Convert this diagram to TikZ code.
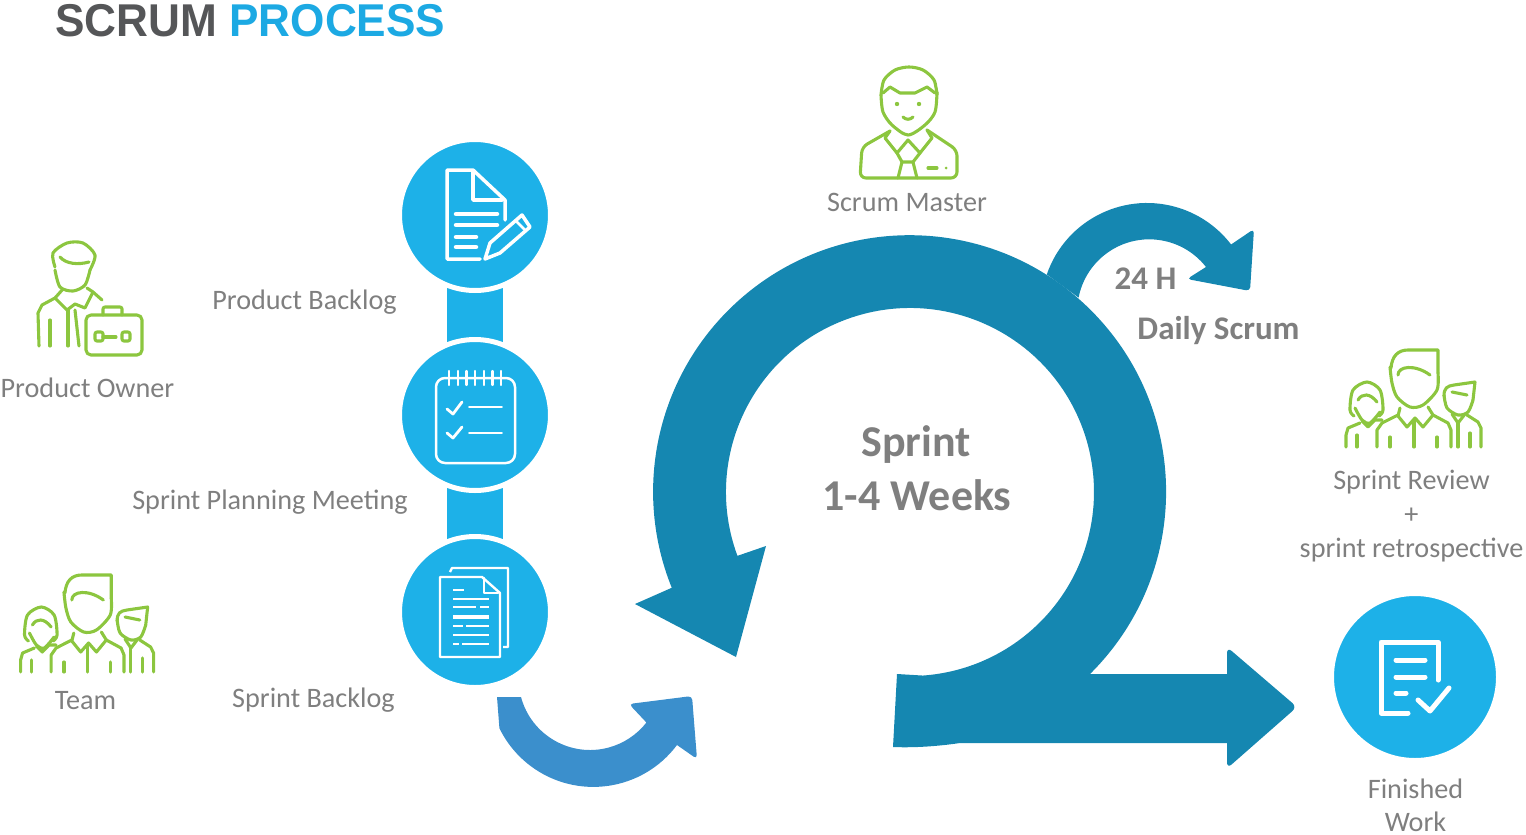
\documentclass[tikz,border=0pt]{standalone}
\usepackage{fontspec}
\setmainfont{Carlito}
\newfontfamily\titlefont[FakeStretch=0.96]{Liberation Sans}
\usetikzlibrary{backgrounds}
\definecolor{ringblue}{HTML}{1587B1}
\definecolor{arrowblue}{HTML}{3B8FCC}
\definecolor{discblue}{HTML}{1DB1E8}
\definecolor{icongreen}{HTML}{8CC63F}
\definecolor{labelgrey}{HTML}{7F7F7F}
\definecolor{titlegrey}{HTML}{555658}
\definecolor{titleblue}{HTML}{1CA9E3}
\newcommand{\teampaths}{%
  \begin{scope}[greenline]
    % centre man
    \draw plot[smooth] coordinates {(70,27) (72,43) (77,57) (90,67) (103,65) (117,50) (118,33)};
    \draw (71,28) .. controls (72,16) and (78,10) .. (88,10) -- (118,10) -- (118,33);
    \draw (78,35) .. controls (78,26) and (95,24) .. (110,35);
    \draw (80,68) -- (78,76) -- (87,87) -- (95,78) -- (103,87) -- (113,75) -- (108,67);
    \draw (94,80) -- (94,107);
    \draw (78,75) -- (62,83) -- (57,90) -- (57,107);
    \draw (113,75) -- (128,83) -- (131,90) -- (131,107);
    \draw (70,97) -- (70,107);
    \draw (117,97) -- (117,107);
    % left woman
    \draw plot[smooth] coordinates {(34,76) (30,70) (33,50) (47,42) (60,50) (63,70) (59,76)};
    \draw (38,60) .. controls (42,53) and (50,53) .. (57,62);
    \draw plot[smooth] coordinates {(35,68) (42,80) (50,83) (60,72)};
    \draw (40,83) -- (28,88) -- (26,95) -- (26,107);
    \draw (42,81) -- (48,87) -- (55,80) -- (62,80);
    \draw (37,95) -- (37,107);
    % right man
    \draw (124,56) .. controls (124,48) and (127,46) .. (134,45) -- (155,42) -- (153,60);
    \draw plot[smooth] coordinates {(124,55) (127,68) (138,75) (148,72) (153,60)};
    \draw (132,52) -- (147,55);
    \draw (132,74) -- (138,83) -- (145,74);
    \draw (147,75) -- (158,82) -- (161,88) -- (161,107);
    \draw (138,83) -- (138,107);
    \draw (150,93) -- (150,107);
  \end{scope}%
}
\tikzset{
  disc/.style={circle,fill=discblue,draw=white,line width=5pt,inner sep=0pt,minimum size=#1},
  link/.style={discblue,line width=56pt},
  lbl/.style={anchor=base,text=labelgrey,inner sep=0pt,font=\fontsize{28.2}{30}\selectfont},
  lblbold/.style={anchor=base,text=labelgrey,inner sep=0pt,font=\fontsize{#1}{40}\selectfont\bfseries},
  whiteline/.style={draw=white,line width=#1,line cap=round,line join=round},
  greenline/.style={draw=icongreen,line width=3.1pt,line cap=round,line join=round}
}
\begin{document}
\begin{tikzpicture}[x=1pt,y=1pt,yscale=-1]
\useasboundingbox (0,0) rectangle (1526,835);

% title
\node[anchor=base west,inner sep=0pt,font=\fontsize{46}{50}\selectfont\titlefont\bfseries] (title) at (55,36)
  {\textcolor{titlegrey}{SCRUM} \textcolor{titleblue}{PROCESS}};

% discs and links
\node[disc=151pt] (backlog) at (475,215) {};
\node[disc=151pt] (planning) at (475,415) {};
\node[disc=151pt] (sprintbl) at (475,612) {};
\node[disc=167pt] (finished) at (1415,677) {};
\begin{scope}[on background layer]
  \draw[link] (backlog.center) -- (planning.center);
  \draw[link] (planning.center) -- (sprintbl.center);
\end{scope}

% big ring arrow
\fill[ringblue] ([shift={(910,492)}]159.7:184pt) arc[start angle=159.7,end angle=446,radius=184pt]
  -- (897,674) -- (893,747) .. controls (915,748) and (940,746) .. (960,743)
  -- (1227,743) [rounded corners=6pt] -- (1227,768.5) -- (1297,707) -- (1227,647) [sharp corners] -- (1227,674)
  -- (1090,674) arc[start angle=45.3,end angle=-202,radius=256.5pt]
  -- (635,604) -- (736,657) -- (766,546) -- cycle;

% 24 H arrow
\fill[ringblue] ([shift={(1147,309)}]-161:106pt) arc[start angle=-161,end angle=-37.5,radius=106pt]
  [rounded corners=4pt] -- (1254,229) -- (1250,291) -- (1187,279) [sharp corners]
  -- (1206,267) arc[start angle=-38,end angle=-169,radius=72pt] -- cycle;

% start arrow
\fill[arrowblue] (497,697) -- (521,697) arc[start angle=165,end angle=38,radius=71.5pt]
  [rounded corners=4pt] -- (629,704) -- (692,696) -- (697,759) [sharp corners] -- (677,745)
  arc[start angle=36.8,end angle=154,radius=104.5pt] -- cycle;

% product backlog icon
\draw[whiteline=3.5pt] (480,259) -- (447,259) -- (447,170) -- (473,170) -- (505,200) -- (505,220);
\draw[whiteline=3.5pt] (473,172) -- (473,200) -- (502,200);
\draw[whiteline=4.5pt] (456,214) -- (497,214) (456,225) -- (497,225) (456,237) -- (476,237) (456,247) -- (476,247);
\draw[whiteline=3.5pt] (485,259) -- (490,243) -- (522,215) -- (530,227) -- (500,253) -- cycle;
\draw[whiteline=2.5pt] (516,221) -- (525,230);

% checklist icon
\draw[whiteline=2.5pt,rounded corners=9pt] (436,378) rectangle (515,463);
\draw[whiteline=2.5pt] (449,378) -- (502,378);
\foreach \tx in {449,457.7,466.4,475.1,483.8,492.5,501}
  \draw[whiteline=2.2pt] (\tx,371) -- (\tx,385);
\draw[whiteline=2.8pt] (447,409) -- (453,414) -- (462,402);
\draw[whiteline=2.8pt] (447,433) -- (453,438) -- (462,427);
\draw[whiteline=1.8pt] (469,407) -- (502,407) (469,433) -- (502,433);

% sprint backlog icon
\draw[whiteline=2.4pt,line cap=butt] (450,572) -- (452,568) -- (508,568) -- (508,647) -- (503,647);
\draw[whiteline=2.4pt] (440,577) -- (482,577) -- (500,593) -- (500,657) -- (440,657) -- cycle;
\draw[whiteline=2.2pt] (484,578) -- (484,593) -- (498,593);
\begin{scope}[whiteline=2pt,line cap=butt]
  \draw (453,590) -- (464,590);
  \draw (453,599) -- (489,599);
  \draw (453,607) -- (476,607) (480,607) -- (489,607);
  \draw[line width=4pt] (453,617) -- (489,617);
  \draw (453,626) -- (463,626) (466,626) -- (489,626);
  \draw (453,635) -- (489,635);
  \draw (453,644) -- (459,644) (462,644) -- (489,644);
\end{scope}

% finished icon
\draw[whiteline=5pt] (1438,680) -- (1438,642) -- (1381,642) -- (1381,713) -- (1408,713);
\draw[whiteline=5pt] (1396,660) -- (1425,660) (1396,677) -- (1425,677) (1396,693) -- (1406,693);
\draw[whiteline=5pt] (1418,700) -- (1430,711) -- (1449,688);

% product owner icon
\begin{scope}[greenline]
  \draw plot[smooth] coordinates {(55,267) (53,253) (67,243) (83,243) (95,255) (90,270)};
  \draw (60,257) .. controls (66,264) and (78,265) .. (89,262);
  \draw plot[smooth] coordinates {(55,270) (60,287) (73,291) (85,285) (90,270)};
  \draw (63,289) -- (55,298) -- (67,310) -- (75,304) -- (85,308) -- (93,292) -- (87,288);
  \draw (55,298) -- (42,305) -- (38,313) -- (39,346);
  \draw (93,292) -- (102,300);
  \draw (50,320) -- (50,346);
  \draw (68,310) -- (68,346);
  \draw (75,310) -- (79,346);
  \draw[rounded corners=5pt] (86,315) rectangle (142,355);
  \draw[rounded corners=2pt] (103,315) -- (103,307) -- (122,307) -- (122,315);
  \draw[rounded corners=2pt] (95,332) rectangle (103,341);
  \draw[rounded corners=2pt] (122,332) rectangle (130,341);
  \draw (103,337) -- (116,337);
\end{scope}

% scrum master icon
\begin{scope}[greenline]
  \draw plot[smooth] coordinates {(881,95) (884,80) (895,70) (909,67) (923,70) (934,80) (937,95)};
  \draw (883,93) -- (890,87) -- (900,93) -- (915,93) -- (927,87) -- (935,93);
  \draw plot[smooth] coordinates {(881,95) (883,112) (892,125) (908,135) (925,125) (935,112) (937,92)};
  \fill[icongreen] (897,104) circle[radius=2.2pt] (919,104) circle[radius=2.2pt];
  \draw (903,117) .. controls (906,120) and (910,120) .. (913,117);
  \draw[rounded corners=6pt] (890,131) -- (862,147) -- (860,178) -- (957,178) -- (957,150) -- (927,130);
  \draw (890,131) -- (885,138) -- (897,153) -- (908,140) -- (920,153) -- (932,138) -- (927,130);
  \draw (897,153) -- (902,162) -- (913,162) -- (920,153);
  \draw (902,162) -- (898,178) (913,162) -- (917,178);
  \draw (928,168) -- (937,168);
  \fill[icongreen] (946,168) circle[radius=1.5pt];
\end{scope}

% team icons
\begin{scope}[shift={(1320,340)}]
  \teampaths
\end{scope}
\begin{scope}[shift={(-5,565)},xscale=0.985]
  \teampaths
\end{scope}

% labels
\node[lbl] (lpo) at (87.5,397) {Product Owner};
\node[lbl] (lpb) at (304.5,309) {Product Backlog};
\node[lbl] (lspm) at (270,509) {Sprint Planning Meeting};
\node[lbl] (lsb) at (313.5,707) {Sprint Backlog};
\node[lbl] (lteam) at (85.5,709) {Team};
\node[lbl] (lsm) at (907,211) {Scrum Master};
\node[lblbold=33] (l24) at (1145.5,289) {24 H};
\node[lblbold=33] (lds) at (1218.5,339) {Daily Scrum};
\node[lblbold=44] (lsp) at (916,456) {Sprint};
\node[lblbold=44] (lwk) at (917,510) {1-4 Weeks};
\node[lbl] (lsr) at (1411.5,489) {Sprint Review};
\node[lbl] (lplus) at (1411.5,523) {+};
\node[lbl] (lret) at (1411.5,557) {sprint retrospective};
\node[lbl] (lfin) at (1415.5,798) {Finished};
\node[lbl] (lwork) at (1415.5,831) {Work};
\end{tikzpicture}
\end{document}
